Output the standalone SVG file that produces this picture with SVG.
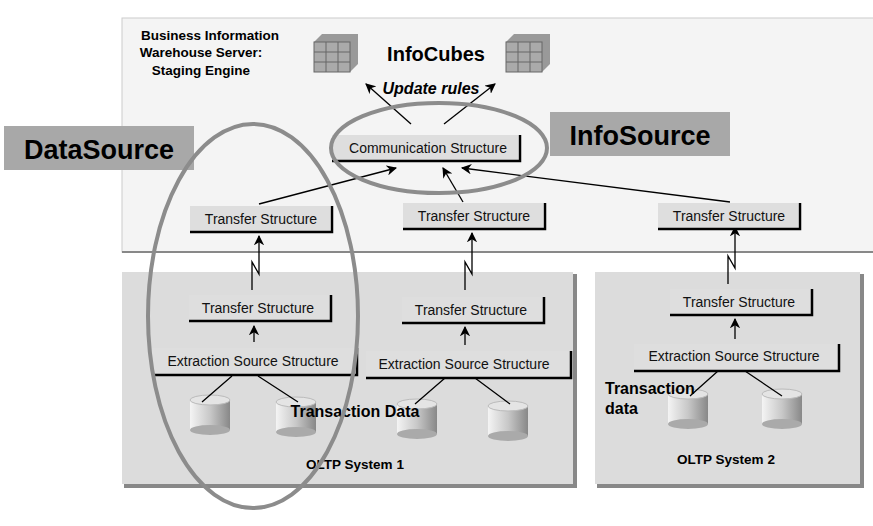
<svg xmlns="http://www.w3.org/2000/svg" width="873" height="526" viewBox="0 0 873 526">
<defs>
<style>
text{font-family:"Liberation Sans",Arial,sans-serif}
.lbl{font-size:14px;text-anchor:middle;fill:#111}
.bx{fill:#dedede}
.sh{fill:none;stroke:#000;stroke-width:2.5}
.ln{stroke:#000;stroke-width:1.3;fill:none}
.b{font-weight:bold}
</style>
<marker id="a" viewBox="0 0 10 10" refX="9" refY="5" markerWidth="8" markerHeight="8" orient="auto"><path d="M0,0 L10,5 L0,10 L3,5 z" fill="#000"/></marker>
<linearGradient id="cy" x1="0" x2="1"><stop offset="0" stop-color="#f4f4f4"/><stop offset="0.5" stop-color="#c8c8c8"/><stop offset="1" stop-color="#888"/></linearGradient>
<g id="cyl"><rect x="-20" y="-14" width="40" height="30" fill="url(#cy)"/><ellipse cx="0" cy="16" rx="20" ry="5" fill="#aaa"/><ellipse cx="0" cy="-14" rx="20" ry="5" fill="#e4e4e4" stroke="#bbb"/></g>
<g id="cube"><path d="M0,8 L8,0 L44,0 L44,30 L36,38 L0,38 z" fill="#999"/><rect x="0" y="8" width="36" height="30" fill="#aaa" stroke="#666"/><path d="M12,8 V38 M24,8 V38 M0,18 H36 M0,28 H36" stroke="#666"/></g>
</defs>
<rect width="873" height="526" fill="#fff"/>
<g id="server"><rect x="122" y="18" width="760" height="234" fill="#f4f4f4" stroke="#ccc"/><line x1="122" y1="252" x2="873" y2="252" stroke="#888" stroke-width="2"/>
<text x="210" y="40" class="b" font-size="13.5" text-anchor="middle">Business Information</text>
<text x="201" y="57" class="b" font-size="13.5" text-anchor="middle">Warehouse Server:</text>
<text x="201" y="75" class="b" font-size="13.5" text-anchor="middle">Staging Engine</text>
<text x="436" y="61" class="b" font-size="20" text-anchor="middle">InfoCubes</text>
<text x="431" y="94" class="b" font-size="16" font-style="italic" text-anchor="middle">Update rules</text>
<use href="#cube" x="314" y="34"/><use href="#cube" x="506" y="34"/></g>
<g id="oltp1"><rect x="124" y="274" width="453" height="214" fill="#888"/><rect x="122" y="272" width="451" height="212" fill="#dcdcdc"/>
<text x="355" y="469" class="b" font-size="13.5" text-anchor="middle">OLTP System 1</text></g>
<g id="oltp2"><rect x="597" y="274" width="267" height="214" fill="#888"/><rect x="595" y="272" width="265" height="212" fill="#dcdcdc"/>
<text x="726" y="464" class="b" font-size="13.5" text-anchor="middle">OLTP System 2</text></g>
<g id="cyls"><use href="#cyl" x="210" y="414"/><use href="#cyl" x="296" y="416"/><use href="#cyl" x="417" y="418"/><use href="#cyl" x="508" y="420"/><use href="#cyl" x="688" y="408"/><use href="#cyl" x="782" y="408"/></g>
<g id="connectors">
<line class="ln" x1="259" y1="204" x2="396" y2="168" marker-end="url(#a)"/>
<line class="ln" x1="463" y1="202" x2="443" y2="168" marker-end="url(#a)"/>
<line class="ln" x1="730" y1="202" x2="462" y2="168" marker-end="url(#a)"/>
<line class="ln" x1="411" y1="124" x2="366" y2="84" marker-end="url(#a)"/>
<line class="ln" x1="444" y1="124" x2="495" y2="84" marker-end="url(#a)"/>
<path class="ln" d="M252,290 V262 L259,274 V252 M259,252 V236" marker-end="url(#a)"/>
<path class="ln" d="M465,290 V262 L472,274 V252 M472,252 V233" marker-end="url(#a)"/>
<path class="ln" d="M728,284 V256 L735,268 V246 M735,246 V227" marker-end="url(#a)"/>
<line class="ln" x1="254" y1="342" x2="254" y2="326" marker-end="url(#a)"/>
<line class="ln" x1="465" y1="345" x2="465" y2="327" marker-end="url(#a)"/>
<line class="ln" x1="735" y1="339" x2="735" y2="319" marker-end="url(#a)"/>
<path class="ln" d="M232,376 L202,402 M258,376 L298,402 M445,378 L415,404 M475,378 L510,404 M718,371 L690,396 M745,371 L782,396"/>
</g>
<g id="comm"><rect x="332" y="135" width="186" height="25" class="bx"/><path class="sh" d="M332,161 H520 V135"/><text x="428" y="153" class="lbl">Communication Structure</text></g>
<g id="ts1"><rect x="190" y="206" width="140" height="25" class="bx"/><path class="sh" d="M190,232 H332 V206"/><text x="261" y="224" class="lbl">Transfer Structure</text></g>
<g id="ts2"><rect x="403" y="203" width="140" height="25" class="bx"/><path class="sh" d="M403,229 H545 V203"/><text x="474" y="221" class="lbl">Transfer Structure</text></g>
<g id="ts3"><rect x="658" y="203" width="140" height="25" class="bx"/><path class="sh" d="M658,229 H800 V203"/><text x="729" y="221" class="lbl">Transfer Structure</text></g>
<g id="ts4"><rect x="189" y="295" width="140" height="25" class="bx"/><path class="sh" d="M189,321 H331 V295"/><text x="258" y="313" class="lbl">Transfer Structure</text></g>
<g id="ts5"><rect x="402" y="297" width="140" height="25" class="bx"/><path class="sh" d="M402,323 H544 V297"/><text x="471" y="315" class="lbl">Transfer Structure</text></g>
<g id="ts6"><rect x="670" y="289" width="140" height="25" class="bx"/><path class="sh" d="M670,315 H812 V289"/><text x="739" y="307" class="lbl">Transfer Structure</text></g>
<g id="es1"><rect x="152" y="348" width="204" height="26" class="bx"/><path class="sh" d="M152,375 H357 V348"/><text x="253" y="366" class="lbl">Extraction Source Structure</text></g>
<g id="es2"><rect x="366" y="351" width="204" height="26" class="bx"/><path class="sh" d="M366,378 H571 V351"/><text x="464" y="369" class="lbl">Extraction Source Structure</text></g>
<g id="es3"><rect x="634" y="344" width="204" height="26" class="bx"/><path class="sh" d="M634,371 H839 V344"/><text x="734" y="361" class="lbl">Extraction Source Structure</text></g>
<text x="355" y="417" class="b" font-size="16" text-anchor="middle">Transaction Data</text>
<text x="605" y="394" class="b" font-size="16">Transaction</text>
<text x="605" y="414" class="b" font-size="16">data</text>
<g id="datasource"><rect x="4" y="126" width="190" height="44" fill="#a8a8a8"/><text x="99" y="159" class="b" font-size="27" text-anchor="middle">DataSource</text>
<ellipse cx="253" cy="316" rx="105" ry="192" fill="none" stroke="#8c8c8c" stroke-width="4"/></g>
<g id="infosource"><rect x="550" y="112" width="180" height="44" fill="#a8a8a8"/><text x="640" y="145" class="b" font-size="27" text-anchor="middle">InfoSource</text>
<ellipse cx="439" cy="148" rx="108" ry="45" fill="none" stroke="#8c8c8c" stroke-width="4"/></g>
</svg>
